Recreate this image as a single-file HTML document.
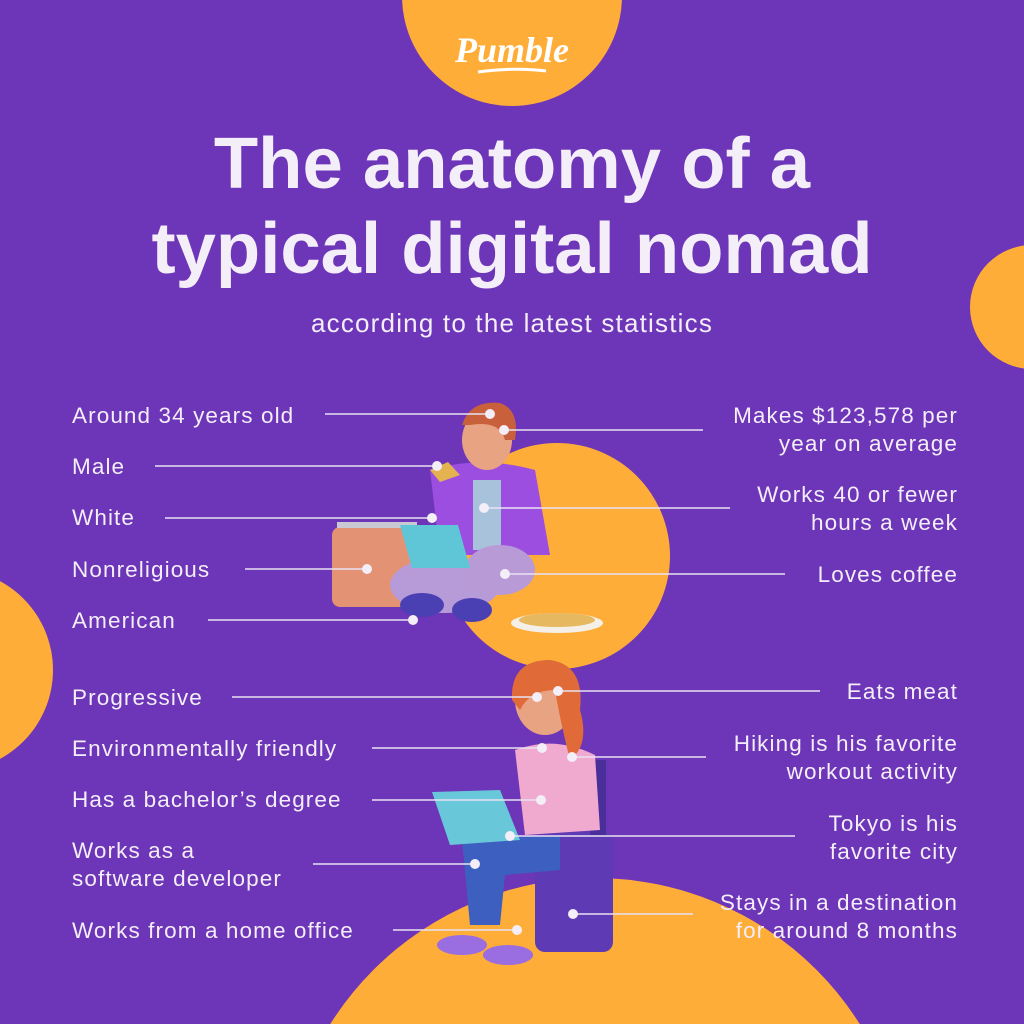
<!DOCTYPE html>
<html><head><meta charset="utf-8"><style>
html,body{margin:0;padding:0;overflow:hidden;width:1024px;height:1024px}
body{background:#6d35b7;position:relative;font-family:"Liberation Sans",sans-serif;color:#f3eef8}
.t{position:absolute;font-size:22.5px;line-height:28px;white-space:nowrap;letter-spacing:1.1px}
.r{text-align:right}
</style></head><body>
<svg width="1024" height="1024" style="position:absolute;left:0;top:0">
<g fill="#ffad39">
<circle cx="512" cy="-4" r="110"/>
<circle cx="1032" cy="307" r="62"/>
<circle cx="-48" cy="670" r="101"/>
<circle cx="557" cy="556" r="113"/>
<circle cx="595" cy="1191" r="313"/>
</g>
<text x="512" y="62" text-anchor="middle" font-family="Liberation Serif" font-style="italic" font-weight="bold" font-size="36" fill="#fff">Pumble</text>
<path d="M478 72 Q515 67 546 71" stroke="#fff" stroke-width="3" fill="none"/>
<rect x="332" y="527" width="90" height="80" rx="8" fill="#e39274"/>
<rect x="337" y="522" width="80" height="6" fill="#c9c9d4"/>
<ellipse cx="445" cy="585" rx="55" ry="28" fill="#b79ad8"/>
<path d="M430 470 Q480 455 535 470 L550 555 L440 555 Z" fill="#9b4ee0"/>
<rect x="473" y="480" width="28" height="70" fill="#a9c2dc"/>
<ellipse cx="500" cy="570" rx="35" ry="25" fill="#b89ad6"/>
<path d="M400 525 L458 525 L470 568 L412 568 Z" fill="#5fc6d8"/>
<ellipse cx="422" cy="605" rx="22" ry="12" fill="#4a3fb3"/>
<ellipse cx="472" cy="610" rx="20" ry="12" fill="#4a3fb3"/>
<ellipse cx="487" cy="440" rx="25" ry="30" fill="#e8a383"/>
<path d="M462 425 Q470 400 500 403 Q520 410 515 440 L505 440 Q500 420 470 425 Z" fill="#c8613b"/>
<path d="M430 470 L448 462 L460 475 L440 482 Z" fill="#e4b350"/>
<ellipse cx="557" cy="623" rx="46" ry="10" fill="#f4f0e8"/>
<ellipse cx="557" cy="620" rx="38" ry="7" fill="#e6b860"/>
<rect x="535" y="832" width="78" height="120" rx="10" fill="#5f3ab5"/>
<rect x="590" y="760" width="16" height="75" fill="#4a2f9a"/>
<path d="M515 750 Q555 735 595 755 L600 830 L525 835 Z" fill="#f0a9cf"/>
<path d="M462 840 L560 835 L560 870 L505 875 L500 925 L470 925 Z" fill="#3d5fbf"/>
<path d="M432 792 L500 790 L520 840 L450 845 Z" fill="#68c8d9"/>
<ellipse cx="545" cy="700" rx="30" ry="35" fill="#e8a383"/>
<path d="M512 700 Q510 660 550 660 Q585 665 580 710 Q590 745 570 760 Q560 720 555 690 Q530 690 520 710 Z" fill="#e06a38"/>
<ellipse cx="462" cy="945" rx="25" ry="10" fill="#9a6de0"/>
<ellipse cx="508" cy="955" rx="25" ry="10" fill="#9a6de0"/>
<g stroke="#e9e2f2" stroke-width="1.6">
<line x1="325" y1="414" x2="490" y2="414"/><line x1="155" y1="466" x2="437" y2="466"/>
<line x1="165" y1="518" x2="432" y2="518"/><line x1="245" y1="569" x2="367" y2="569"/>
<line x1="208" y1="620" x2="413" y2="620"/>
<line x1="504" y1="430" x2="703" y2="430"/><line x1="484" y1="508" x2="730" y2="508"/>
<line x1="505" y1="574" x2="785" y2="574"/>
<line x1="232" y1="697" x2="537" y2="697"/><line x1="558" y1="691" x2="820" y2="691"/>
<line x1="372" y1="748" x2="542" y2="748"/><line x1="572" y1="757" x2="706" y2="757"/>
<line x1="372" y1="800" x2="541" y2="800"/><line x1="510" y1="836" x2="795" y2="836"/>
<line x1="313" y1="864" x2="475" y2="864"/><line x1="573" y1="914" x2="693" y2="914"/>
<line x1="393" y1="930" x2="517" y2="930"/>
</g>
<g fill="#f3eef8">
<circle cx="490" cy="414" r="5"/><circle cx="437" cy="466" r="5"/><circle cx="432" cy="518" r="5"/>
<circle cx="367" cy="569" r="5"/><circle cx="413" cy="620" r="5"/><circle cx="504" cy="430" r="5"/>
<circle cx="484" cy="508" r="5"/><circle cx="505" cy="574" r="5"/><circle cx="537" cy="697" r="5"/>
<circle cx="558" cy="691" r="5"/><circle cx="542" cy="748" r="5"/><circle cx="572" cy="757" r="5"/>
<circle cx="541" cy="800" r="5"/><circle cx="510" cy="836" r="5"/><circle cx="475" cy="864" r="5"/>
<circle cx="573" cy="914" r="5"/><circle cx="517" cy="930" r="5"/>
</g>
</svg>
<div style="position:absolute;left:0;width:1024px;top:121px;text-align:center;font-weight:bold;font-size:72.5px;line-height:85px;color:#f3eef8">The anatomy of a<br>typical digital nomad</div>
<div style="position:absolute;left:0;width:1024px;top:308px;text-align:center;font-size:26px;letter-spacing:1.2px;color:#f3eef8">according to the latest statistics</div>
<div class="t" style="left:72px;top:402px">Around 34 years old</div>
<div class="t" style="left:72px;top:453px">Male</div>
<div class="t" style="left:72px;top:504px">White</div>
<div class="t" style="left:72px;top:556px">Nonreligious</div>
<div class="t" style="left:72px;top:607px">American</div>
<div class="t" style="left:72px;top:684px">Progressive</div>
<div class="t" style="left:72px;top:735px">Environmentally friendly</div>
<div class="t" style="left:72px;top:786px">Has a bachelor’s degree</div>
<div class="t" style="left:72px;top:837px">Works as a<br>software developer</div>
<div class="t" style="left:72px;top:917px">Works from a home office</div>
<div class="t r" style="right:66px;top:402px">Makes $123,578 per<br>year on average</div>
<div class="t r" style="right:66px;top:481px">Works 40 or fewer<br>hours a week</div>
<div class="t r" style="right:66px;top:561px">Loves coffee</div>
<div class="t r" style="right:66px;top:678px">Eats meat</div>
<div class="t r" style="right:66px;top:730px">Hiking is his favorite<br>workout activity</div>
<div class="t r" style="right:66px;top:810px">Tokyo is his<br>favorite city</div>
<div class="t r" style="right:66px;top:889px">Stays in a destination<br>for around 8 months</div>
</body></html>
